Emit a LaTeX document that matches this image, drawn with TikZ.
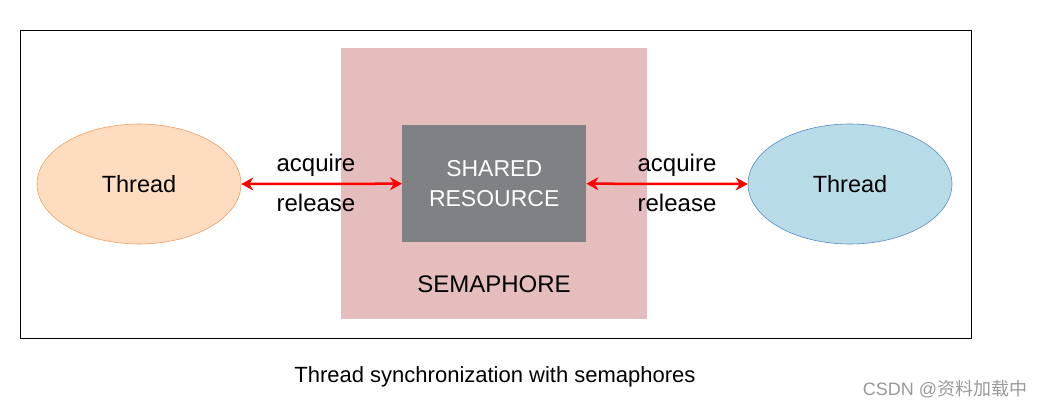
\documentclass[tikz,border=0pt]{standalone}
\usepackage{fontspec}
\setmainfont{Liberation Sans}
\newfontfamily\cjk{Noto Sans CJK SC}
\usetikzlibrary{shapes.geometric,arrows.meta}
\definecolor{sem}{HTML}{E4BDBC}
\definecolor{res}{HTML}{808184}
\definecolor{lfill}{HTML}{FDDCC0}
\definecolor{lbord}{HTML}{F0A060}
\definecolor{rfill}{HTML}{B7DCE8}
\definecolor{rbord}{HTML}{5B8AC0}
\begin{document}
\begin{tikzpicture}[x=1pt,y=-1pt,
  lbl/.style={font=\fontsize{24}{28}\selectfont},
  arr/.style={red,line width=2.5pt,{Stealth[length=12pt,width=13pt]}-{Stealth[length=12pt,width=13pt]}},
  thr/.style={ellipse,minimum width=204pt,minimum height=120pt,font=\fontsize{23.5}{27}\selectfont,line width=0.6pt}]
\useasboundingbox (0,0) rectangle (1045,409);
\node[draw=black,line width=1pt,minimum width=951pt,minimum height=308pt,anchor=north west] (frame) at (20,30) {};
\node[fill=sem,minimum width=306pt,minimum height=271pt,anchor=north west] (sem) at (341,48) {};
\node[fill=res,minimum width=184pt,minimum height=117pt,anchor=north west,text=white,align=center,font=\fontsize{23}{30}\selectfont] (res) at (402,125) {SHARED\\RESOURCE};
\node[thr,fill=lfill,draw=lbord] (lt) at (139,184) {Thread};
\node[thr,fill=rfill,draw=rbord] (rt) at (850,184) {Thread};
\draw[arr] (lt.east) -- (res.west);
\draw[arr] (res.east) -- (rt.west);
\node[lbl] (la) at (316,165) {acquire};
\node[lbl] (lr) at (316,203) {release};
\node[lbl] (ra) at (677,165) {acquire};
\node[lbl] (rr) at (677,203) {release};
\node[lbl] (semt) at (494,284) {SEMAPHORE};
\node[font=\fontsize{22}{26}\selectfont] (cap) at (495,377) {Thread synchronization with semaphores};
\node[text=gray!80,font=\fontsize{18}{22}\selectfont] (wm) at (945,389) {CSDN @{\cjk 资料加载中}};
\end{tikzpicture}
\end{document}
